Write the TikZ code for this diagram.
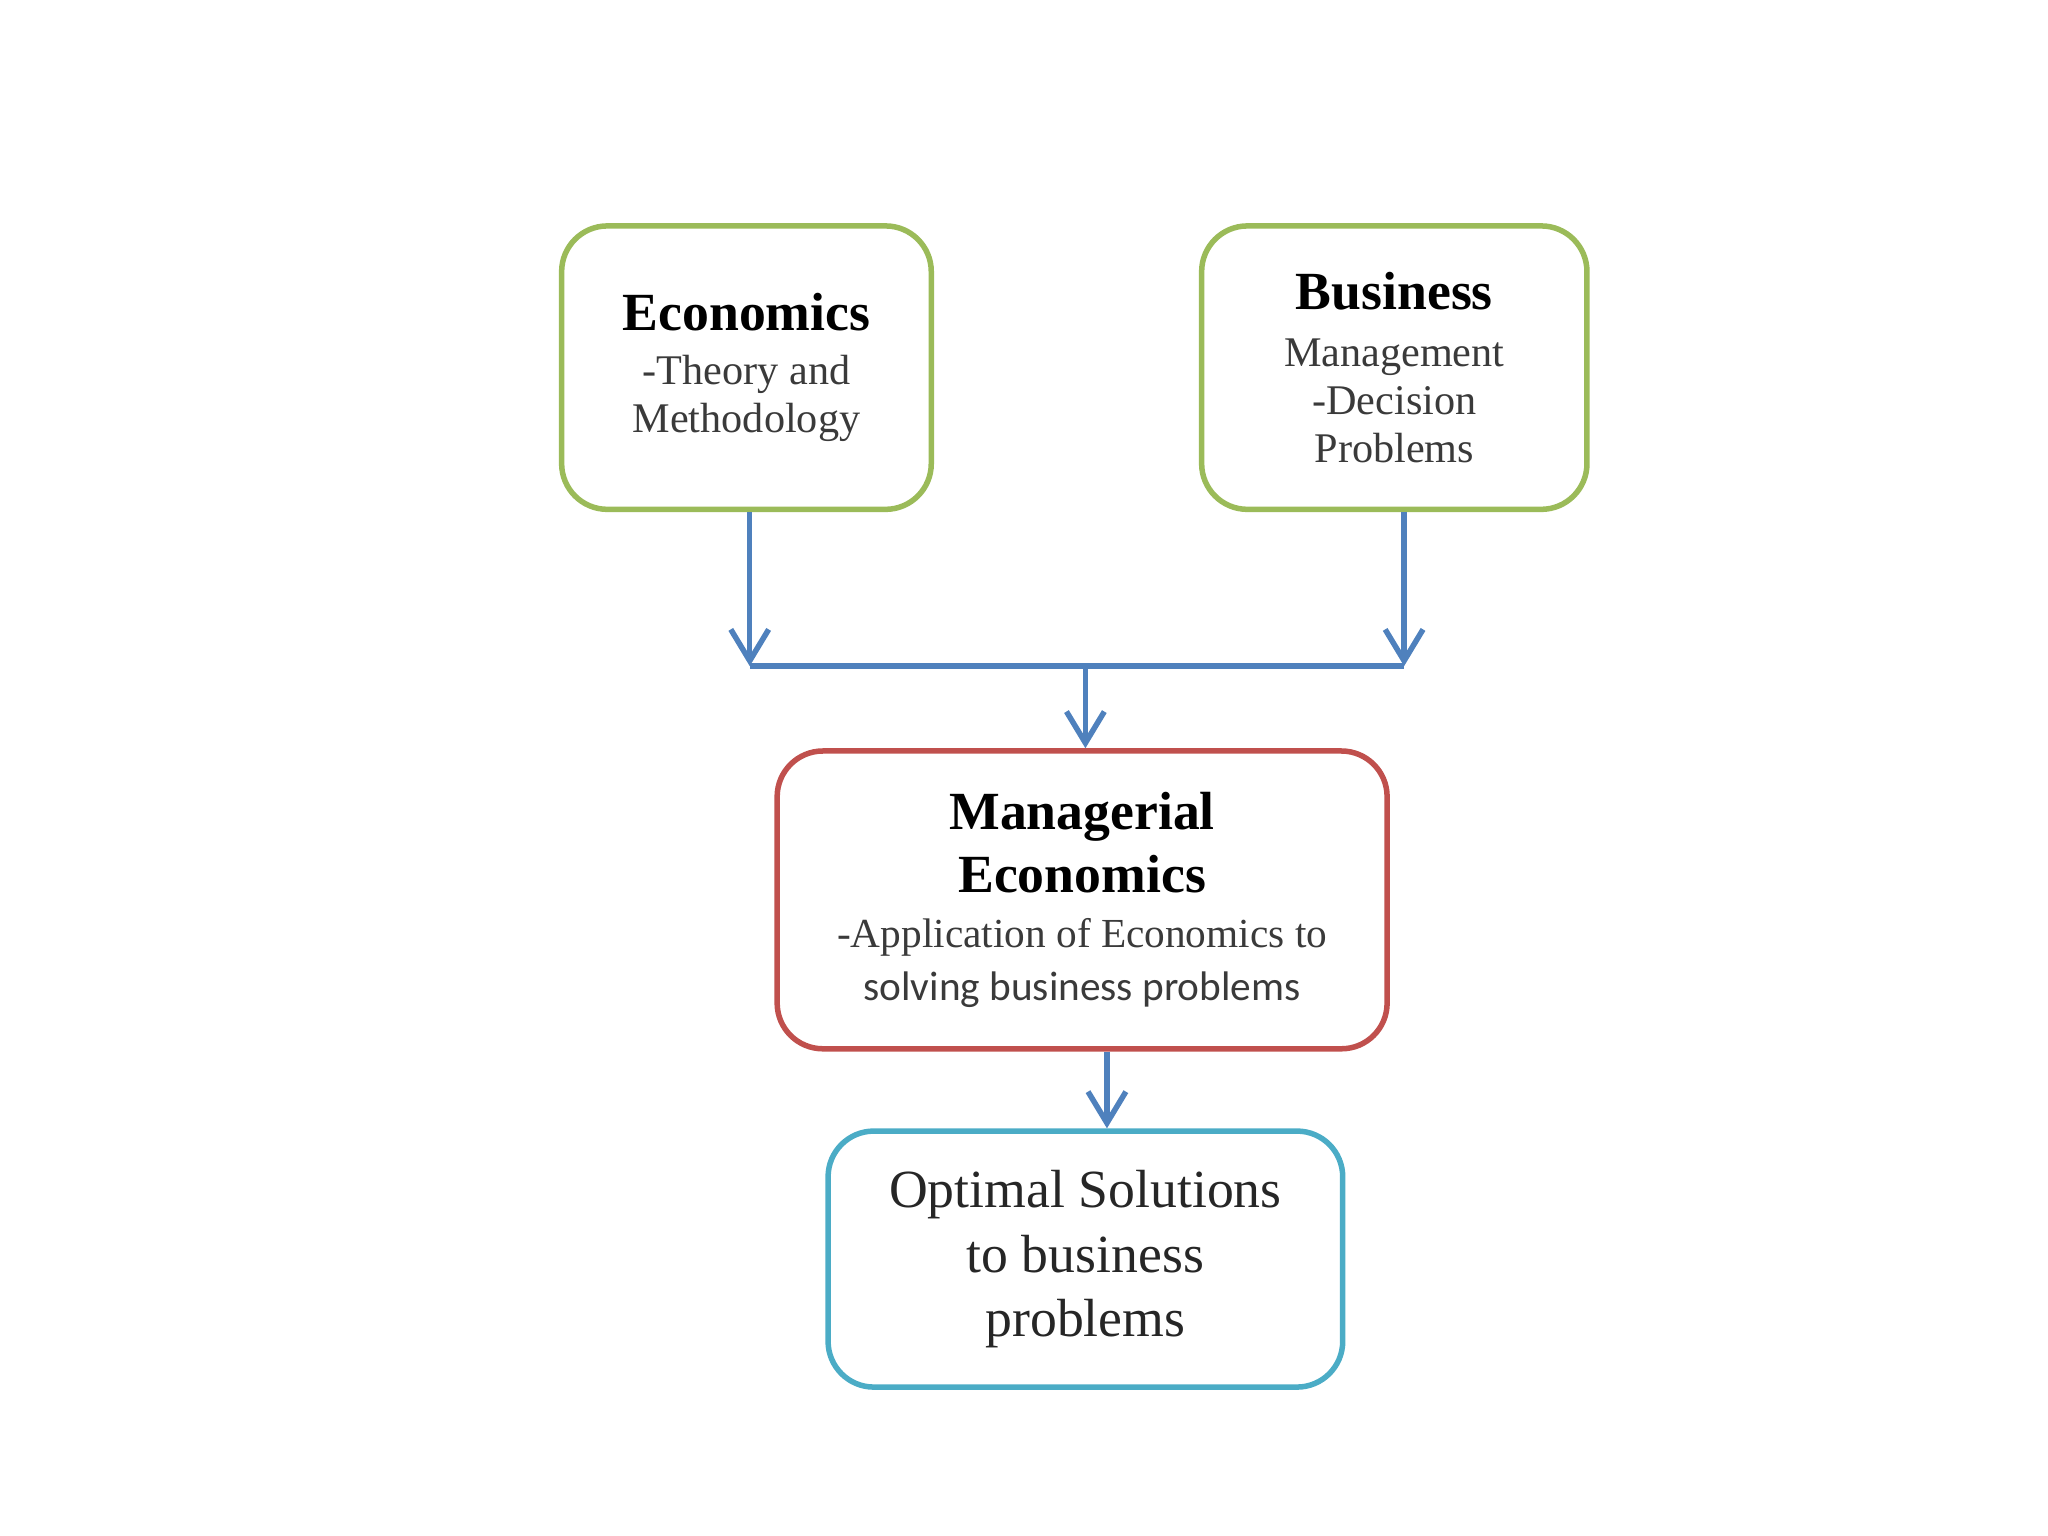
\documentclass[tikz,border=0pt]{standalone}
\usepackage{fontspec}
\setmainfont{Liberation Serif}
\newfontfamily\calfont{Carlito}
\usetikzlibrary{arrows.meta}

\definecolor{boxgreen}{HTML}{9BBB59}
\definecolor{boxred}{HTML}{C0504D}
\definecolor{boxcyan}{HTML}{4BACC6}
\definecolor{arrowblue}{HTML}{4F81BD}
\definecolor{subgray}{HTML}{3A3A3A}

\newcommand{\headfont}{\fontsize{11.7}{13.7}\selectfont\bfseries\color{black}}
\newcommand{\subfont}{\fontsize{9.2}{10.5}\selectfont}

\begin{document}
\begin{tikzpicture}[
  topic/.style={draw, line width=1.2pt, rounded corners=3.5mm, align=center, inner sep=0pt, text=subgray},
  flow/.style={draw=arrowblue, line width=1.2pt, -{Straight Barb[length=2.4mm, width=2.9mm, line width=1.2pt]}},
  joint/.style={draw=arrowblue, line width=1.2pt}
]
\useasboundingbox (0, 0) rectangle (15.68, 11.76);

\node[topic, draw=boxgreen, font=\subfont, minimum width=2.83cm, minimum height=2.17cm] (econ) at (5.715, 8.945)
  {{\headfont Economics}\\[1.2pt]-Theory and\\Methodology};
\node[topic, draw=boxgreen, font=\subfont, minimum width=2.95cm, minimum height=2.17cm] (bus) at (10.675, 8.945)
  {{\headfont Business}\\[2pt]Management\\-Decision\\Problems};

\node[topic, draw=boxred, font=\fontsize{9}{11.6}\selectfont, minimum width=4.67cm, minimum height=2.28cm] (manag) at (8.285, 4.87)
  {{\headfont Managerial}\\[2.3pt]{\headfont Economics}\\[0.3pt]
   -Application of Economics to\\
   {\calfont\fontsize{9}{11.6}\selectfont solving business problems}};

\node[topic, draw=boxcyan, font=\fontsize{11.7}{14}\selectfont, text=black!85, minimum width=3.94cm, minimum height=1.96cm] (opt) at (8.31, 2.12)
  {Optimal Solutions\\to business\\problems};

% Join the two sources.
\coordinate (jl) at ([xshift=0.25mm]econ.south |- 0, 6.66);
\coordinate (jr) at ([xshift=0.75mm]bus.south |- 0, 6.66);
\coordinate (jm) at (8.31, 6.66);

\draw[flow] ([xshift=0.25mm]econ.south) -- (jl);
\draw[flow] ([xshift=0.75mm]bus.south) -- (jr);
\draw[joint] (jl) -- (jr);
\draw[flow] (jm) -- (jm |- manag.north);

\draw[flow] ([xshift=1.9mm]manag.south) -- ([xshift=1.9mm]manag.south |- opt.north);

\end{tikzpicture}
\end{document}
